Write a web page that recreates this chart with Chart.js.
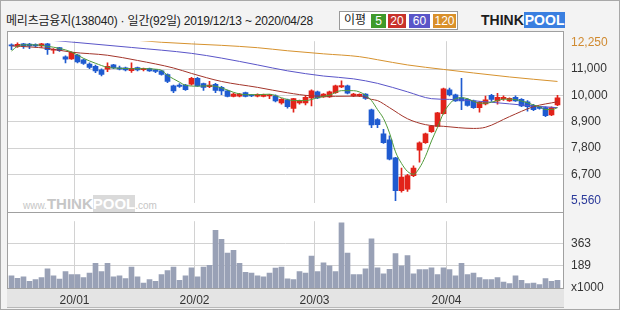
<!DOCTYPE html>
<html lang="ko">
<head>
<meta charset="utf-8">
<script src="https://cdn.jsdelivr.net/npm/chart.js@4.4.1/dist/chart.umd.min.js"></script>
<style>
html, body { margin: 0; padding: 0; }
body { width: 620px; height: 310px; overflow: hidden; position: relative; background: #fff;
       font-family: "Liberation Sans", "Noto Sans CJK KR", sans-serif; }
#frame { position: absolute; left: 0; top: 0; width: 618px; height: 308px; border: 1px solid #a8a8a8; background: #f3f3f3; }
.plot { position: absolute; background: #fff; border: 1px solid #a0a0a0; box-sizing: border-box; }
#pricePlot { left: 7px; top: 31px; width: 557px; height: 182px; }
#volPlot { left: 7px; top: 212px; width: 557px; height: 77px; }
#xStrip { position: absolute; left: 7px; top: 289px; width: 557px; height: 18px; background: #e4e4e4; border-bottom: 1px solid #b8b8b8; }
canvas { position: absolute; left: 0; }
#priceCanvas { top: 26px; }
#volCanvas { top: 206px; }
#title { position: absolute; left: 6px; top: 11px; font-size: 12px; color: #222; white-space: nowrap; letter-spacing: -0.2px; }
#legend { position: absolute; left: 339px; top: 11px; width: 117px; height: 17px; background: #fff; border: 1px solid #999;
          font-size: 12px; white-space: nowrap; }
#legend span { position: absolute; top: 2px; height: 14px; line-height: 14px; text-align: center; color: #fff; }
#legend .lbl { left: 4px; top: 1px; color: #222; }
#logo { position: absolute; left: 481px; top: 12px; font: bold 14px "Liberation Sans", sans-serif; white-space: nowrap; }
#logo .think { color: #1c1c1c; }
#logo .pool { color: #fff; background: #3a7fe0; padding: 0 1px; }
#mark { position: absolute; left: 23px; top: 195px; white-space: nowrap; color: #c6c6c6; font-family: "Liberation Sans", sans-serif; }
#mark .sm { font-size: 10px; }
#mark .big { font-size: 15px; font-weight: bold; }
#mark .pl { font-size: 15px; font-weight: bold; color: #fff; background: #dadada; }
</style>
</head>
<body>
<div id="frame"></div>
<div id="title">메리츠금융지(138040) · 일간(92일) 2019/12/13 ~ 2020/04/28</div>
<div id="legend">
  <span class="lbl">이평</span>
  <span style="left:31px;width:15px;background:#3f9a2b">5</span>
  <span style="left:48px;width:18px;background:#c8322a">20</span>
  <span style="left:69px;width:21px;background:#5a55c8">60</span>
  <span style="left:93px;width:23px;background:#d9902a">120</span>
</div>
<div id="logo"><span class="think">THINK</span><span class="pool">POOL</span></div>
<div id="pricePlot" class="plot"></div>
<div id="volPlot" class="plot"></div>
<div id="xStrip"></div>
<div id="mark"><span class="sm">www.</span><span class="big">THINK</span><span class="pl">POOL</span><span class="sm">.com</span></div>
<canvas id="priceCanvas" width="620" height="192"></canvas>
<canvas id="volCanvas" width="620" height="104"></canvas>

<script>
// Daily candles, 2019/12/13 ~ 2020/04/28 (92 trading days, index 0..91)
const opens  = [12160,12100,12200,12190,12170,12110,12200,11930,12040,11650,
                11560,11730,11525,11350,11250,11100,11125,11310,11185,11185,
                11070,11200,11110,11160,11100,11060,10906,10425,10460,10460,
                10490,10745,10515,10385,10490,10360,10210,9980,9990,10135,
                10020,9990,9980,10000,10005,9700,9830,9470,9700,9700,
                9917,10170,9955,9955,10135,10380,10425,10000,10000,10070,
                9410,8990,8390,8140,7380,5985,6050,6620,7700,8015,
                8480,8710,9244,10260,10045,9917,9850,9790,9500,9660,
                10020,9790,9880,9790,9940,9850,9750,9600,9500,9500,
                9190,9620];
const highs  = [12200,12250,12230,12220,12200,12220,12230,12000,12060,11700,
                11870,11760,11560,11400,11300,11140,11400,11330,11260,11220,
                11400,11220,11180,11180,11120,11080,10930,10460,10520,10490,
                10780,10780,10540,10610,10530,10400,10240,10120,10110,10160,
                10050,10090,10080,10060,10040,9880,9860,9900,9820,10020,
                10250,10200,10100,10200,10460,10640,10460,10110,10090,10100,
                9440,9040,8586,8310,7400,6940,6680,7040,8050,8420,
                8740,9300,10330,10330,10080,10745,9880,9820,9760,9990,
                10060,10107,10000,9920,10000,9880,9800,9640,9530,9530,
                9530,10020];
const lows   = [11960,12050,12010,12000,12060,12050,11755,11800,11880,11400,
                11540,11400,11330,11150,10980,10840,11020,11150,11100,11060,
                10990,11060,11060,11040,10980,10880,10560,10130,10360,10230,
                10450,10400,10235,10350,10135,10045,9950,9950,9960,9950,
                9970,9960,9950,9880,9740,9650,9480,9310,9650,9620,
                9575,9880,9930,9930,10100,10350,10080,9970,9970,9850,
                8650,8650,7990,7290,5560,5920,5950,6580,7190,7990,
                8450,8680,9220,10000,9760,9410,9560,9470,9310,9620,
                9760,9650,9810,9760,9760,9540,9346,9370,9440,9120,
                9160,9580];
const closes = [12120,12180,12120,12110,12120,12200,11960,11960,11910,11550,
                11845,11440,11375,11200,11060,10910,11250,11185,11125,11100,
                11170,11100,11140,11060,11040,10910,10614,10210,10400,10260,
                10745,10425,10360,10460,10235,10210,9980,10080,10080,9980,
                10000,10060,10050,10030,9790,9850,9537,9880,9790,9940,
                10210,9917,10080,10170,10425,10430,10110,10080,10060,9890,
                8770,8776,8015,7320,5985,6560,6620,6940,8015,8395,
                8710,9280,10300,10045,9790,9790,9600,9500,9727,9830,
                9850,9940,9940,9890,9790,9575,9537,9410,9470,9156,
                9500,9917];
// Volume, thousand shares
const volumes = [110,91,103,68,80,96,165,110,84,144,
                 119,119,96,131,207,144,207,103,110,89,
                 179,103,54,80,68,119,151,179,75,110,
                 172,103,179,193,465,396,288,310,207,137,
                 131,110,103,131,170,179,87,80,144,131,
                 264,144,211,188,144,525,288,119,119,165,
                 400,172,126,160,283,188,269,126,158,158,
                 172,119,172,158,110,207,119,131,96,80,
                 80,96,61,49,110,75,49,54,41,89,
                 68,75];

// Moving averages (day index, price)
const ma5Days = [0,1,2,4,6,8,10,12,14,16,18,20,22,24,25,26,27,28,29,31,
                 33,35,37,39,41,43,45,47,49,51,53,55,57,59,60,61,62,63,64,65,
                 66,67,68,69,70,71,72,73,74,75,76,77,78,79,80,81,82,83,84,85,
                 86,87,88,89,90,91];
const ma5Values = [11900,12100,12160,12160,12100,12010,11860,11590,11380,11210,
                   11170,11150,11150,11130,11080,10870,10720,10580,10450,10410,
                   10430,10340,10150,10050,10050,10070,9920,9800,9800,9920,
                   10030,10220,10220,10030,9800,9420,9040,8430,7630,7140,
                   6800,6680,6950,7440,8090,8660,9270,9650,9880,9920,
                   9880,9770,9690,9690,9730,9800,9860,9860,9840,9780,
                   9710,9610,9540,9420,9420,9500];
const ma20Days = [0,6,10,16,21,27,30,35,41,46,50,54,58,60,61,63,66,69,72,77,79,83,87,91];
const ma20Values = [12120,12010,11850,11720,11500,11180,10950,10610,10360,10130,
                    10000,9980,9990,9850,9800,9500,9030,8780,8710,8620,8670,9120,9540,9750];
const ma60Days = [0,10,20,30,35,41,46,52,57,61,66,70,73,77,83,87,91];
const ma60Values = [12500,12280,12050,11800,11600,11310,11060,10840,10720,10530,
                    10170,9880,9850,9790,9660,9570,9500];
const ma120Days = [0,25,35,41,46,52,58,61,66,72,77,83,91];
const ma120Values = [12850,12270,12140,12040,11910,11780,11660,11530,11310,11120,10970,10800,10610];

// Axis ticks
const monthTicks = [10.5, 30.5, 50.5, 72.5];
const monthLabels = ["20/01", "20/02", "20/03", "20/04"];
const priceTicks = [5560, 6675, 7790, 8905, 10020, 11135, 12250];
const priceTickLabels = ["5,560", "6,700", "7,800", "8,900", "10,000", "11,000", "12,250"];
const volTicks = [15, 189, 363, 537];
const volTickLabels = ["x1000", "189", "363", ""];

const UP = "#e2231a", DOWN = "#1f5bd0";
const candleColors = opens.map((o, i) => closes[i] >= o ? UP : DOWN);
const tickFont = { family: "Liberation Sans", size: 12 };

function pts(days, vals) {
    return days.map((d, k) => ({ x: d, y: vals[k] }));
}

function xAxis(showLabels) {
    return {
        type: "linear", min: -0.583, max: 91.917, offset: false,
        afterBuildTicks: s => { s.ticks = monthTicks.map(v => ({ value: v })); },
        afterFit: s => { s.height = showLabels ? 22 : 0; },
        grid: { color: "#d2d2d2", drawTicks: false, offset: false },
        border: { display: false },
        ticks: { display: showLabels, padding: 5, color: "#333", font: tickFont,
                 maxRotation: 0, autoSkip: false, callback: (v, i) => monthLabels[i] }
    };
}

function maLine(days, vals, color) {
    return { type: "line", data: pts(days, vals), borderColor: color, borderWidth: 1,
             pointRadius: 0, cubicInterpolationMode: "monotone" };
}

// Price chart
new Chart(document.getElementById("priceCanvas"), {
    type: "bar",
    data: {
        datasets: [
            maLine(ma5Days, ma5Values, "#4f9a3a"),
            maLine(ma20Days, ma20Values, "#a3352b"),
            maLine(ma60Days, ma60Values, "#5a55c8"),
            maLine(ma120Days, ma120Values, "#d6922e"),
            {
                data: opens.map((o, i) => ({ x: i, y: [o, closes[i]] })),
                backgroundColor: candleColors, barThickness: 5, grouped: false, minBarLength: 1
            },
            {
                data: lows.map((l, i) => ({ x: i, y: [l, highs[i]] })),
                backgroundColor: candleColors, barThickness: 1, grouped: false
            }
        ]
    },
    options: {
        responsive: false,
        animation: false,
        layout: { padding: { left: 8, top: 6, bottom: 6, right: 0 } },
        plugins: { legend: { display: false }, tooltip: { enabled: false } },
        scales: {
            x: xAxis(false),
            y: {
                position: "right", min: 5470, max: 12315,
                afterBuildTicks: s => { s.ticks = priceTicks.map(v => ({ value: v })); },
                afterFit: s => { s.width = 57; },
                grid: { drawTicks: false,
                        color: c => (c.index > 0 && c.index < priceTicks.length - 1) ? "#d2d2d2" : "rgba(0,0,0,0)" },
                border: { display: false },
                ticks: { padding: 8, font: tickFont,
                         color: c => c.index === 0 ? "#2b3a9a" : (c.index === priceTicks.length - 1 ? "#d08a30" : "#333"),
                         callback: (v, i) => priceTickLabels[i] }
            }
        }
    }
});

// Volume chart
new Chart(document.getElementById("volCanvas"), {
    type: "bar",
    data: {
        datasets: [{
            data: volumes.map((v, i) => ({ x: i, y: v })),
            backgroundColor: "#99a1b6", barThickness: 5, grouped: false
        }]
    },
    options: {
        responsive: false,
        animation: false,
        layout: { padding: { left: 8, top: 6, bottom: 0, right: 0 } },
        plugins: { legend: { display: false }, tooltip: { enabled: false } },
        scales: {
            x: xAxis(true),
            y: {
                position: "right", min: 15, max: 537,
                afterBuildTicks: s => { s.ticks = volTicks.map(v => ({ value: v })); },
                afterFit: s => { s.width = 57; },
                grid: { drawTicks: false,
                        color: c => (c.index === 1 || c.index === 2) ? "#d2d2d2" : "rgba(0,0,0,0)" },
                border: { display: false },
                ticks: { padding: 8, font: tickFont, color: "#333",
                         callback: (v, i) => volTickLabels[i] }
            }
        }
    }
});
</script>
</body>
</html>
